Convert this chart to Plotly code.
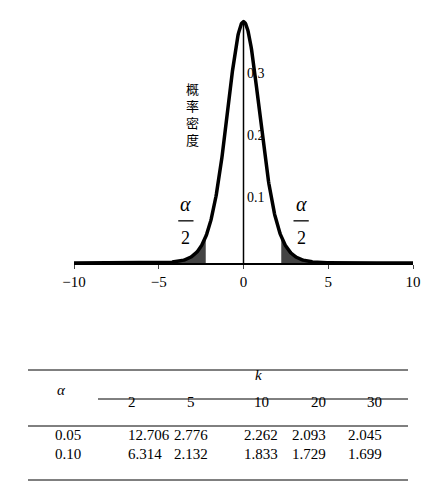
import numpy as np
from math import gamma, sqrt, pi
import plotly.graph_objects as go

# t distribution parameters
df = 10
t_crit = 2.228
x_range = [-10, 10]
x_ticks = [-10, -5, 0, 5, 10]
y_ticks = [0.1, 0.2, 0.3]

# table data
alphas = ["0.05", "0.10"]
k_values = ["2", "5", "10", "20", "30"]
table_rows = [
    ["12.706", "2.776", "2.262", "2.093", "2.045"],
    ["6.314", "2.132", "1.833", "1.729", "1.699"],
]


def t_pdf(x, k):
    c = gamma((k + 1) / 2) / (sqrt(k * pi) * gamma(k / 2))
    return c * (1 + x ** 2 / k) ** (-(k + 1) / 2)


xs = np.linspace(x_range[0], x_range[1], 801)
ys = t_pdf(xs, df)

fig = go.Figure()
for lo, hi in [(x_range[0], -t_crit), (t_crit, x_range[1])]:
    xt = np.linspace(lo, hi, 200)
    fig.add_trace(go.Scatter(x=xt, y=t_pdf(xt, df), fill="tozeroy", mode="none",
                             fillcolor="#444444", hoverinfo="skip"))
fig.add_trace(go.Scatter(x=xs, y=ys, mode="lines", line=dict(color="black", width=3.5)))

font = dict(family="Liberation Serif", size=15, color="black")
# y axis drawn at x=0
fig.add_shape(type="line", x0=0, x1=0, y0=0, y1=float(t_pdf(0, df)), xref="x", yref="y",
              line=dict(color="black", width=1.5))
for v in y_ticks:
    fig.add_annotation(x=0, y=v, text=str(v), showarrow=False, xanchor="left", yanchor="bottom",
                       xshift=1, yshift=-6, font=dict(family="Liberation Serif", size=14, color="black"))
fig.add_annotation(x=-3.0, y=0.24, text="概<br>率<br>密<br>度", showarrow=False,
                   font=dict(family="Noto Sans CJK SC", size=13, color="black"))
fig.add_annotation(x=0, y=-0.085, text="<i>τ<sub>t</sub></i>", showarrow=False,
                   font=dict(family="Liberation Serif", size=20, color="black"))
for xa in [-3.4, 3.4]:
    fig.add_annotation(x=xa, y=0.095, text="<i>α</i>", showarrow=False,
                       font=dict(family="Liberation Serif", size=20, color="black"))
    fig.add_annotation(x=xa, y=0.04, text="2", showarrow=False,
                       font=dict(family="Liberation Serif", size=18, color="black"))
    fig.add_shape(type="line", x0=xa - 0.45, x1=xa + 0.45, y0=0.068, y1=0.068, xref="x", yref="y",
                  line=dict(color="black", width=1.3))

# table
tx0, tx1 = 20 / 439, 400 / 439
def py(p):
    return 1 - p / 500
for yp, x0 in [(362, tx0), (391, 90 / 439), (418, tx0), (472, tx0)]:
    fig.add_shape(type="line", x0=x0, x1=tx1, y0=py(yp), y1=py(yp), xref="paper", yref="paper",
                  line=dict(color="black", width=1))
col_x = [118, 183, 253, 320, 376]
fig.add_annotation(x=47 / 439, y=py(392), text="<i>α</i>", xref="paper", yref="paper", showarrow=False, font=font)
fig.add_annotation(x=250 / 439, y=py(377), text="<i>k</i>", xref="paper", yref="paper", showarrow=False, font=font)
for cx, k in zip(col_x, k_values):
    fig.add_annotation(x=cx / 439, y=py(404), text=k, xref="paper", yref="paper", showarrow=False, font=font)
for ry, a, row in zip([437, 456], alphas, table_rows):
    fig.add_annotation(x=45 / 439, y=py(ry), text=a, xref="paper", yref="paper", showarrow=False, font=font)
    for cx, v in zip(col_x, row):
        fig.add_annotation(x=cx / 439, y=py(ry), text=v, xref="paper", yref="paper", showarrow=False, font=font)

fig.update_layout(
    width=439, height=500, margin=dict(l=0, r=0, t=0, b=0, autoexpand=False),
    paper_bgcolor="white", plot_bgcolor="white", showlegend=False,
    xaxis=dict(domain=[66 / 439, 405 / 439], range=x_range, tickvals=x_ticks,
               ticktext=["−10", "−5", "0", "5", "10"], showgrid=False, zeroline=False,
               showline=True, linecolor="black", linewidth=1.5, ticks="outside", ticklen=4,
               tickfont=font, anchor="y", automargin=False),
    yaxis=dict(domain=[0.49, 0.986], range=[0, 0.4], visible=False, automargin=False),
)
fig.write_html("out.html")
